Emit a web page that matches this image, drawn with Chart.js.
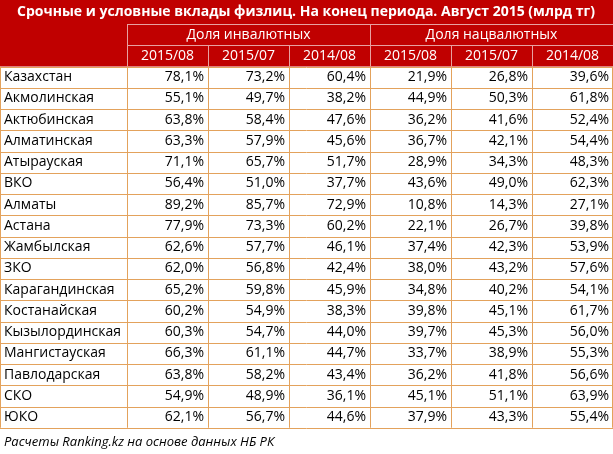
<!DOCTYPE html>
<html><head><meta charset="utf-8">
<script src="https://cdn.jsdelivr.net/npm/chart.js@4"></script>
<style>body{margin:0;background:#fff}canvas{display:block}</style>
</head><body>
<canvas id="t" width="613" height="454"></canvas>
<script>
const title = "Срочные и условные вклады физлиц. На конец периода. Август 2015 (млрд тг)";
const groups = ["Доля инвалютных", "Доля нацвалютных"];
const periods = ["2015/08", "2015/07", "2014/08"];
const regions = ["Казахстан","Акмолинская","Актюбинская","Алматинская","Атырауская","ВКО","Алматы","Астана","Жамбылская","ЗКО","Карагандинская","Костанайская","Кызылординская","Мангистауская","Павлодарская","СКО","ЮКО"];
const foreign = [
  [78.1,73.2,60.4],[55.1,49.7,38.2],[63.8,58.4,47.6],[63.3,57.9,45.6],[71.1,65.7,51.7],[56.4,51.0,37.7],
  [89.2,85.7,72.9],[77.9,73.3,60.2],[62.6,57.7,46.1],[62.0,56.8,42.4],[65.2,59.8,45.9],[60.2,54.9,38.3],
  [60.3,54.7,44.0],[66.3,61.1,44.7],[63.8,58.2,43.4],[54.9,48.9,36.1],[62.1,56.7,44.6]];
const national = [
  [21.9,26.8,39.6],[44.9,50.3,61.8],[36.2,41.6,52.4],[36.7,42.1,54.4],[28.9,34.3,48.3],[43.6,49.0,62.3],
  [10.8,14.3,27.1],[22.1,26.7,39.8],[37.4,42.3,53.9],[38.0,43.2,57.6],[34.8,40.2,54.1],[39.8,45.1,61.7],
  [39.7,45.3,56.0],[33.7,38.9,55.3],[36.2,41.8,56.6],[45.1,51.1,63.9],[37.9,43.3,55.4]];
const footer = "Расчеты Ranking.kz на основе данных НБ РК";

// layout in page units (x: 0..613, y: 0..454)
const colEdges = [0,127,208,289,370,451,532,613];
const rowTop = 66.5, rowH = 21.25;
const RED = "#c00000", GRID = "#e3a25c";
const fmt = v => v.toFixed(1).replace(".", ",") + "%";

const tablePlugin = {
  id: "table",
  afterDraw(chart) {
    const c = chart.ctx, X = chart.scales.x, Y = chart.scales.y;
    const px = v => X.getPixelForValue(v), py = v => Y.getPixelForValue(v);
    c.save();
    c.fillStyle = RED;
    c.fillRect(px(0), py(0), px(613) - px(0), py(rowTop) - py(0));
    c.textBaseline = "middle";
    c.fillStyle = "#fff";
    c.font = "bold 14px 'Open Sans'";
    c.textAlign = "center";
    c.fillText(title, px(306), py(12), 606);
    c.font = "14px 'Open Sans'";
    c.strokeStyle = "#e8a0a0";
    c.lineWidth = 1;
    // header lines
    c.beginPath();
    c.moveTo(px(127), py(24.5)); c.lineTo(px(613), py(24.5));
    c.moveTo(px(127), py(45.5)); c.lineTo(px(613), py(45.5));
    [127, 370].forEach(x => { c.moveTo(px(x) + .5, py(24)); c.lineTo(px(x) + .5, py(rowTop)); });
    [208, 289, 451, 532].forEach(x => { c.moveTo(px(x) + .5, py(45)); c.lineTo(px(x) + .5, py(rowTop)); });
    c.stroke();
    groups.forEach((g, i) => c.fillText(g, (px(colEdges[1 + i * 3]) + px(colEdges[4 + i * 3])) / 2, py(35)));
    for (let k = 0; k < 6; k++)
      c.fillText(periods[k % 3], (px(colEdges[k + 1]) + px(colEdges[k + 2])) / 2, py(56));
    // body
    c.fillStyle = "#000";
    regions.forEach((r, i) => {
      const cy = py(rowTop + rowH * (i + 0.5));
      c.textAlign = "left";
      c.fillText(r, px(4), cy);
      c.textAlign = "right";
      const vals = foreign[i].concat(national[i]);
      vals.forEach((v, k) => c.fillText(fmt(v), px(colEdges[k + 2]) - 4, cy));
    });
    c.strokeStyle = GRID;
    c.beginPath();
    for (let i = 0; i <= regions.length; i++) {
      const y = Math.round(py(rowTop + rowH * i)) + .5;
      c.moveTo(px(0), y); c.lineTo(px(613), y);
    }
    const yb = py(rowTop + rowH * regions.length);
    colEdges.forEach(x => { const xx = Math.min(Math.round(px(x)) + .5, px(613) - .5); c.moveTo(xx, py(rowTop)); c.lineTo(xx, yb); });
    c.stroke();
    c.textAlign = "left";
    c.font = "italic 13px 'Open Sans'";
    c.fillText(footer, px(4), py(442));
    c.restore();
  }
};

new Chart(document.getElementById("t"), {
  type: "scatter",
  data: { datasets: [{ data: [] }] },
  options: {
    responsive: false,
    animation: false,
    layout: { padding: 0 },
    plugins: { legend: { display: false }, tooltip: { enabled: false } },
    scales: {
      x: { type: "linear", min: 0, max: 613, display: false },
      y: { type: "linear", min: 0, max: 454, reverse: true, display: false }
    }
  },
  plugins: [tablePlugin]
});
</script>
</body></html>
